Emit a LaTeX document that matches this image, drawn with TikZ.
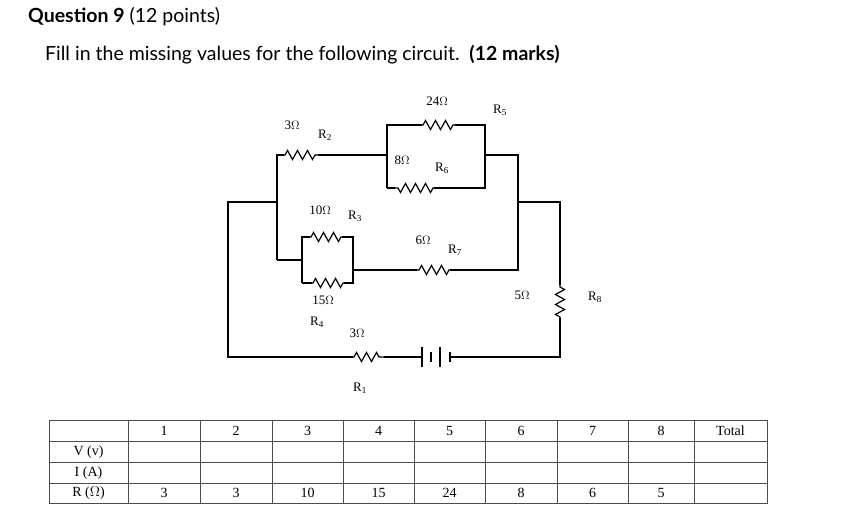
\documentclass[tikz,border=0pt]{standalone}
\usepackage{fontspec}
\setmainfont{Liberation Serif}
\newfontfamily\hdr{Lato}
\usetikzlibrary{decorations.pathmorphing}
\begin{document}
\begin{tikzpicture}[x=1pt,y=-1pt,
  w/.style={line width=1.2pt},
  res/.style={line width=1.2pt,decorate,decoration={zigzag,segment length=10pt,amplitude=4.5pt,pre length=1pt,post length=1pt}},
  lb/.style={font=\fontsize{13}{13}\selectfont,inner sep=0pt},
  cell/.style={font=\fontsize{14}{14}\selectfont,inner sep=0pt},
  grid/.style={line width=0.6pt,black!70}]
\useasboundingbox (0,0) rectangle (863,523);
\node[anchor=west,inner sep=0pt,font=\hdr\fontsize{19.5}{19.5}\selectfont] (q) at (28,17) {\textbf{Question 9} (12 points)};
\node[anchor=west,inner sep=0pt,font=\hdr\fontsize{19.5}{19.5}\selectfont] (f) at (45,55) {Fill in the missing values for the following circuit.\ \ \textbf{(12 marks)}};
% outer loop
\draw[w] (277,202) -- (228,202) -- (228,357) -- (353,357);
\draw[res] (353,357) -- (384,357);
\draw[w] (384,357) -- (422,357);
\draw[w] (422,347) -- (422,367); \draw[w] (431,352) -- (431,362);
\draw[w] (440,347) -- (440,367); \draw[w] (450,352) -- (450,362);
\draw[w] (450,357) -- (560,357) -- (560,318);
\draw[res] (560,318) -- (560,285);
\draw[w] (560,285) -- (560,202) -- (518,202);
% inner left
\draw[w] (277,260) -- (277,155) -- (284,155);
\draw[res] (284,155) -- (318,155);
\draw[w] (318,155) -- (387,155);
% R5/R6 box
\draw[w] (387,188) -- (387,125) -- (422,125);
\draw[res] (422,125) -- (455,125);
\draw[w] (455,125) -- (485,125) -- (485,188) -- (434,188);
\draw[res] (434,188) -- (395,188);
\draw[w] (395,188) -- (387,188);
\draw[w] (485,155) -- (518,155) -- (518,270) -- (450,270);
\draw[res] (450,270) -- (417,270);
\draw[w] (417,270) -- (353,270);
% R3/R4 box
\draw[w] (277,260) -- (302,260);
\draw[w] (302,283) -- (302,237) -- (310,237);
\draw[res] (310,237) -- (342,237);
\draw[w] (342,237) -- (353,237) -- (353,283) -- (344,283);
\draw[res] (344,283) -- (312,283);
\draw[w] (312,283) -- (302,283);
% labels
\node[lb] (l5) at (437,101) {24$\Omega$}; \node[lb] (r5) at (500,110) {R\textsubscript{5}};
\node[lb] (l2) at (292,125) {3$\Omega$}; \node[lb] (r2) at (325,135) {R\textsubscript{2}};
\node[lb] (l6) at (402,160) {8$\Omega$}; \node[lb] (r6) at (442,168) {R\textsubscript{6}};
\node[lb] (l3) at (320,210) {10$\Omega$}; \node[lb] (r3) at (355,216) {R\textsubscript{3}};
\node[lb] (l7) at (423,240) {6$\Omega$}; \node[lb] (r7) at (455,250) {R\textsubscript{7}};
\node[lb] (l4) at (323,300) {15$\Omega$}; \node[lb] (r4) at (317,322) {R\textsubscript{4}};
\node[lb] (l1) at (357,333) {3$\Omega$}; \node[lb] (r1) at (360,388) {R\textsubscript{1}};
\node[lb] (l8) at (522,295) {5$\Omega$}; \node[lb] (r8) at (595,297) {R\textsubscript{8}};
% table
\draw[grid] (49,420) rectangle (767,503);
\foreach \y in {441,462,483} \draw[grid] (49,\y) -- (767,\y);
\foreach \x in {128,200,272,343,414,485,557,628,694} \draw[grid] (\x,420) -- (\x,503);
\foreach \t/\x in {1/164,2/236,3/307.5,4/378.5,5/449.5,6/521,7/592.5,8/661,Total/730.5}
  \node[cell] at (\x,431) {\t};
\node[cell] (rv) at (88.5,452) {V (v)};
\node[cell] (ri) at (88.5,473) {I (A)};
\node[cell] (rr) at (88.5,493) {R ($\Omega$)};
\foreach \t/\x in {3/164,3/236,10/307.5,15/378.5,24/449.5,8/521,6/592.5,5/661}
  \node[cell] at (\x,493) {\t};
\end{tikzpicture}
\end{document}
